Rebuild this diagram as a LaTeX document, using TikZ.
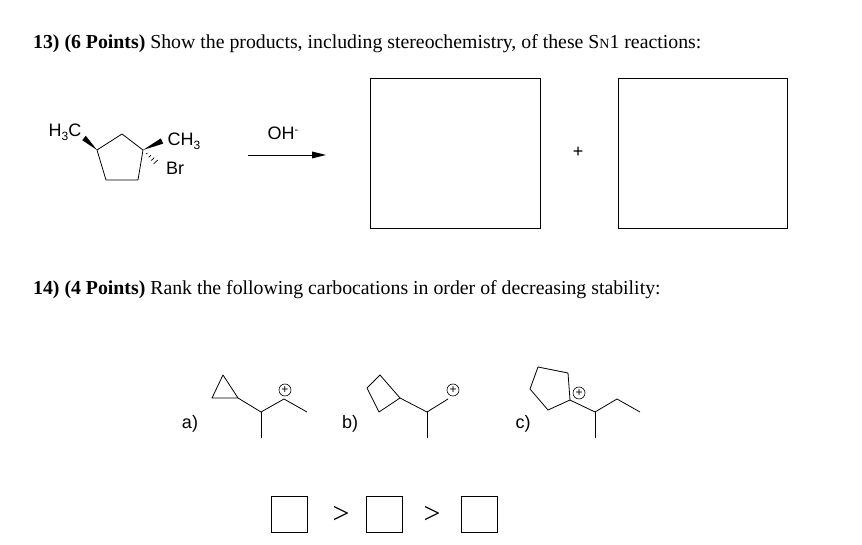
\documentclass[tikz,border=0pt]{standalone}
\usepackage{fontspec}
\usetikzlibrary{calc,arrows.meta}
\setmainfont{Liberation Serif}
\newfontfamily\arial{Liberation Sans}
\begin{document}
\begin{tikzpicture}[x=1pt,y=-1pt,
  bnd/.style={line width=0.8pt,line join=round},
  lbl/.style={font=\arial\fontsize{18}{18}\selectfont,inner sep=0pt},
  ttl/.style={font=\fontsize{19.8}{22}\selectfont,inner sep=0pt,anchor=west},
  ansbox/.style={draw,line width=0.8pt},
  plusc/.style={draw,circle,line width=0.6pt,minimum size=12pt,inner sep=0pt,font=\arial\fontsize{12}{12}\selectfont}]
\useasboundingbox (0,0) rectangle (862,545);
\node[ttl] (t1) at (33,44) {\textbf{13) (6 Points)} Show the products, including stereochemistry, of these S{\fontsize{14}{14}\selectfont N}1 reactions:};
\node[ttl] (t2) at (33,290) {\textbf{14) (4 Points)} Rank the following carbocations in order of decreasing stability:};
% molecule 1
\coordinate (r1) at (97,150); \coordinate (r2) at (122,134); \coordinate (r3) at (143,150);
\coordinate (r4) at (138,180); \coordinate (r5) at (106,180);
\draw[bnd] (r1)--(r2)--(r3)--(r4)--(r5)--cycle;
\node[lbl] (h3c) at (65,132) {H\raisebox{-4pt}{\fontsize{12}{12}\selectfont 3}C};
\node[lbl] (ch3) at (184,141) {CH\raisebox{-4pt}{\fontsize{12}{12}\selectfont 3}};
\node[lbl] (br) at (175,168) {Br};
\coordinate (w1) at (84,138); \coordinate (w2) at (162,141);
\fill (r1) -- ($(w1)+(1.8,-2.2)$) -- ($(w1)+(-1.8,2.2)$) -- cycle;
\fill (r3) -- ($(w2)+(-1.2,-2.6)$) -- ($(w2)+(1.2,2.6)$) -- cycle;
\foreach \t in {0.25,0.45,0.65,0.85}
  \draw[line width=0.7pt] ($(r3)!\t!(158,164)+(\t*2.4,-\t*2.2)$) -- ($(r3)!\t!(158,164)-(\t*2.4,-\t*2.2)$);
\node[lbl] (oh) at (283,133) {OH\raisebox{6pt}{\fontsize{11}{11}\selectfont -}};
\coordinate (a1) at (248,155); \coordinate (a2) at (326,155);
\draw[line width=0.9pt] (a1)--($(a2)+(-8,0)$);
\fill (a2) -- ++(-14,-3.5) -- ++(0,7) -- cycle;
\node[ansbox,minimum width=170pt,minimum height=150pt,inner sep=0] (bx1) at (455,153) {};
\node[ansbox,minimum width=169pt,minimum height=150pt,inner sep=0] (bx2) at (702.5,153) {};
\node[lbl] (plus) at (578,152) {+};
% a
\node[lbl] (la) at (190,424) {a)};
\draw[bnd] (212,398)--(223,375)--(238,398)--cycle;
\draw[bnd] (238,398)--(261,412)--(284,399)--(307,412);
\draw[bnd] (261,412)--(261,438);
\node[plusc] (pa) at (285,390) {+};
% b
\node[lbl] (lb) at (350,424) {b)};
\draw[bnd] (367,388)--(380,375)--(400,398)--(379,412)--cycle;
\draw[bnd] (400,398)--(427,412)--(448,399);
\draw[bnd] (427,412)--(427,438);
\node[plusc] (pb) at (453,390) {+};
% c
\node[lbl] (lc) at (523,424) {c)};
\draw[bnd] (530,389)--(538,367)--(568,373)--(570,400)--(548,410)--cycle;
\draw[bnd] (570,400)--(595,412)--(617,399)--(640,412);
\draw[bnd] (595,412)--(595,438);
\node[plusc] (pc) at (579,393) {+};
% ranking
\node[ansbox,minimum size=36pt,inner sep=0] (k1) at (289.5,514.5) {};
\node[ansbox,minimum size=36pt,inner sep=0] (k2) at (384.5,514.5) {};
\node[ansbox,minimum size=36pt,inner sep=0] (k3) at (479,514.5) {};
\node[font=\fontsize{30}{30}\selectfont,inner sep=0pt] (g1) at (341,515) {>};
\node[font=\fontsize{30}{30}\selectfont,inner sep=0pt] (g2) at (432,515) {>};
\end{tikzpicture}
\end{document}
